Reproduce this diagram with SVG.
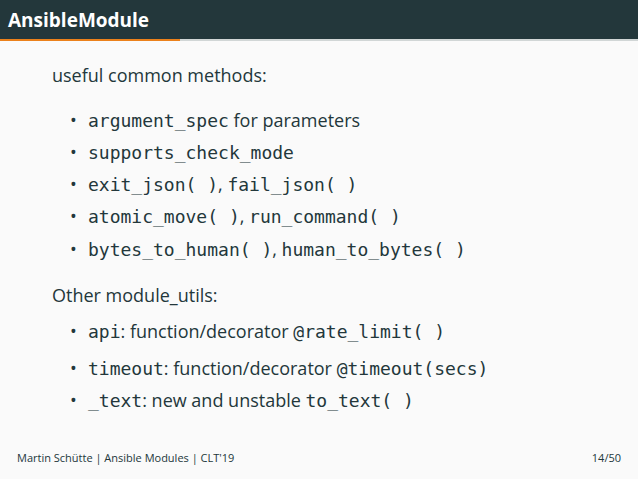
<svg xmlns="http://www.w3.org/2000/svg" width="638" height="479" viewBox="0 0 638 479">
<style>
.t{font-family:"Open Sans","Noto Sans",sans-serif;font-size:18px;fill:#23373b}
.m{font-family:"DejaVu Sans Mono","Liberation Mono",monospace;font-size:18px}
.b{font-family:"Open Sans",sans-serif;font-size:18px;fill:#23373b}
.f{font-family:"Open Sans",sans-serif;font-size:11px;fill:#23373b}
</style>
<rect width="638" height="479" fill="#fafafa"/>
<g id="header">
<rect width="638" height="40" fill="#23373b"/>
<rect x="0" y="39" width="180" height="2" fill="#eb811b"/>
<rect x="180" y="39" width="458" height="2" fill="#d1d6d6"/>
<text x="8" y="27" font-family="Open Sans,sans-serif" font-size="19" font-weight="bold" fill="#fff">AnsibleModule</text>
</g>
<g id="body">
<text class="t" x="52" y="82">useful common methods:</text>
<text class="b" x="70" y="127">•</text><text class="t" x="88" y="127"><tspan class="m">argument_spec</tspan> for parameters</text>
<text class="b" x="70" y="159">•</text><text class="t" x="88" y="159"><tspan class="m">supports_check_mode</tspan></text>
<text class="b" x="70" y="191">•</text><text class="t" x="88" y="191"><tspan class="m">exit_json( )</tspan>, <tspan class="m">fail_json( )</tspan></text>
<text class="b" x="70" y="223">•</text><text class="t" x="88" y="223"><tspan class="m">atomic_move( )</tspan>, <tspan class="m">run_command( )</tspan></text>
<text class="b" x="70" y="256">•</text><text class="t" x="88" y="256"><tspan class="m">bytes_to_human( )</tspan>, <tspan class="m">human_to_bytes( )</tspan></text>
<text class="t" x="52" y="302">Other module_utils:</text>
<text class="b" x="70" y="338">•</text><text class="t" x="88" y="338"><tspan class="m">api</tspan>: function/decorator <tspan class="m">@rate_limit( )</tspan></text>
<text class="b" x="70" y="375">•</text><text class="t" x="88" y="375"><tspan class="m">timeout</tspan>: function/decorator <tspan class="m">@timeout(secs)</tspan></text>
<text class="b" x="70" y="407">•</text><text class="t" x="88" y="407"><tspan class="m">_text</tspan>: new and unstable <tspan class="m">to_text( )</tspan></text>
</g>
<g id="footer">
<text class="f" x="17" y="462">Martin Schütte | Ansible Modules | CLT'19</text>
<text class="f" x="621" y="462" text-anchor="end">14/50</text>
</g>
</svg>
